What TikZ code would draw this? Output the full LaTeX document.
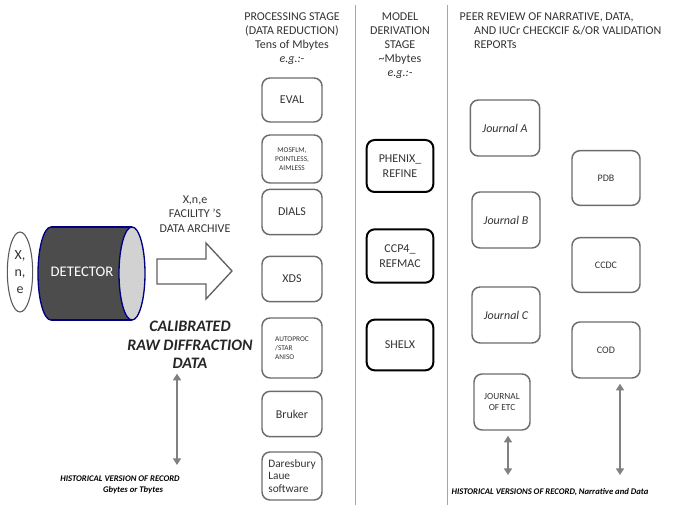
\documentclass[tikz,border=0pt]{standalone}
\usepackage{fontspec}
\setmainfont{Carlito}
\usetikzlibrary{arrows.meta,shapes.geometric}
\begin{document}
\begin{tikzpicture}[x=0.75pt,y=-0.75pt,
 box/.style={draw=gray!85!black,line width=1.1pt,rounded corners=6pt,align=center,inner sep=1pt,text=black!80},
 bbox/.style={box,draw=black,line width=1.5pt},
 hd/.style={align=center,font=\fontsize{9}{10.5}\selectfont,text=black!80},
 dbl/.style={draw=gray,line width=1.5pt,{Triangle[length=5pt,width=6pt]}-{Triangle[length=5pt,width=6pt]}}]
\useasboundingbox (0,0) rectangle (685,505);
% separators
\draw[gray!70,line width=0.6pt] (355,5) -- (355,505);
\draw[gray!70,line width=0.6pt] (447,5) -- (447,505);
% headings
\node[hd,anchor=north] (h1) at (292,8) {PROCESSING STAGE\\(DATA REDUCTION)\\Tens of Mbytes\\\textit{e.g.:-}};
\node[hd,anchor=north] (h2) at (400,8) {MODEL\\DERIVATION\\STAGE\\\textasciitilde Mbytes\\\textit{e.g.:-}};
\node[hd,anchor=north west,align=left] (h3) at (455,8) {PEER REVIEW OF NARRATIVE, DATA,\\\hspace{1.2em}AND IUCr CHECKCIF \&/OR VALIDATION\\\hspace{1.2em}REPORTs};
% processing boxes
\node[box,minimum width=45pt,minimum height=33pt,font=\fontsize{9}{10}\selectfont] (eval) at (292,100) {EVAL};
\node[box,minimum width=45pt,minimum height=36pt,font=\fontsize{5.5}{7}\selectfont] (mos) at (292,159) {MOSFLM,\\POINTLESS,\\AIMLESS};
\node[box,minimum width=45pt,minimum height=34pt,font=\fontsize{9}{10}\selectfont] (dials) at (292,212) {DIALS};
\node[box,minimum width=45pt,minimum height=34pt,font=\fontsize{9}{10}\selectfont] (xds) at (292,279) {XDS};
\node[box,minimum width=45pt,minimum height=45pt,font=\fontsize{5.5}{7}\selectfont,align=left] (auto) at (292,348) {AUTOPROC\\/STAR\\ANISO};
\node[box,minimum width=45pt,minimum height=34pt,font=\fontsize{9}{10}\selectfont] (bruker) at (292,414) {Bruker};
\node[box,minimum width=45pt,minimum height=36pt,font=\fontsize{8.5}{9.5}\selectfont,align=left] (dare) at (292,476) {Daresbury\\Laue\\software};
% model boxes
\node[bbox,minimum width=50pt,minimum height=39pt,font=\fontsize{9}{11}\selectfont] (phx) at (400,166) {PHENIX\_\\REFINE};
\node[bbox,minimum width=50pt,minimum height=40pt,font=\fontsize{9}{11}\selectfont] (ccp4) at (400,256) {CCP4\_\\REFMAC};
\node[bbox,minimum width=50pt,minimum height=38pt,font=\fontsize{9}{11}\selectfont] (shelx) at (400,345) {SHELX};
% journals
\node[box,minimum width=52pt,minimum height=42pt,font=\fontsize{9}{10}\selectfont\itshape] (ja) at (505,128) {Journal A};
\node[box,minimum width=51pt,minimum height=42pt,font=\fontsize{9}{10}\selectfont\itshape] (jb) at (506,220) {Journal B};
\node[box,minimum width=51pt,minimum height=42pt,font=\fontsize{9}{10}\selectfont\itshape] (jc) at (506,315) {Journal C};
\node[box,minimum width=42pt,minimum height=42pt,font=\fontsize{7}{8.5}\selectfont] (je) at (502,402) {JOURNAL\\OF ETC};
\node[box,minimum width=51pt,minimum height=41pt,font=\fontsize{7.5}{9}\selectfont] (pdb) at (606,178) {PDB};
\node[box,minimum width=51pt,minimum height=41pt,font=\fontsize{7.5}{9}\selectfont] (ccdc) at (606,265) {CCDC};
\node[box,minimum width=51pt,minimum height=42pt,font=\fontsize{7.5}{9}\selectfont] (cod) at (606,350) {COD};
% detector
\node[draw=gray!70!black,line width=0.8pt,ellipse,minimum width=19pt,minimum height=60pt,inner sep=0pt,font=\fontsize{10.5}{13}\selectfont,align=center,text=black!80] (src) at (20,272) {X,\\n,\\e};
\fill[gray!60!black] (51,227) rectangle (132,320);
\fill[gray!60!black] (51,273.5) ellipse [x radius=9.75pt,y radius=34.9pt];
\draw[blue!50!black,line width=1pt] (51,227) -- (132,227) (51,320) -- (132,320);
\draw[blue!50!black,line width=1pt] (51,227) arc[start angle=90,end angle=270,x radius=9.75pt,y radius=34.9pt];
\draw[blue!50!black,line width=1pt,fill=gray!35] (132,273.5) ellipse [x radius=9.75pt,y radius=34.9pt];
\node[text=white,font=\fontsize{11}{13}\selectfont] (det) at (82,272) {DETECTOR};
% big arrow
\draw[gray!75!black,line width=1pt,fill=white] (157,259) -- (206,259) -- (206,243) -- (232,271) -- (206,299) -- (206,284) -- (157,284) -- cycle;
\node[hd,font=\fontsize{9}{11}\selectfont] (arch) at (195,214) {X,n,e\\FACILITY 'S\\DATA ARCHIVE};
\node[align=center,font=\fontsize{12}{14}\selectfont\bfseries\itshape,text=black!85] (cal) at (190,345) {CALIBRATED\\RAW DIFFRACTION\\DATA};
% historical
\node[font=\fontsize{6.5}{8}\selectfont\bfseries\itshape,align=center] (hist1) at (120,485) {HISTORICAL VERSION OF RECORD\\\hspace{3em}Gbytes or Tbytes};
\node[font=\fontsize{6.5}{8}\selectfont\bfseries\itshape] (hist2) at (550,492) {HISTORICAL VERSIONS OF RECORD, Narrative and Data};
\coordinate (a1) at (177,465); \coordinate (a2) at (508,475); \coordinate (a3) at (620,475);
\draw[dbl] (cal.south -| a1) -- (a1);
\draw[dbl] (je.south -| a2) ++(0,5) -- (a2);
\draw[dbl] (cod.south -| a3) ++(0,5) -- (a3);
\end{tikzpicture}
\end{document}
